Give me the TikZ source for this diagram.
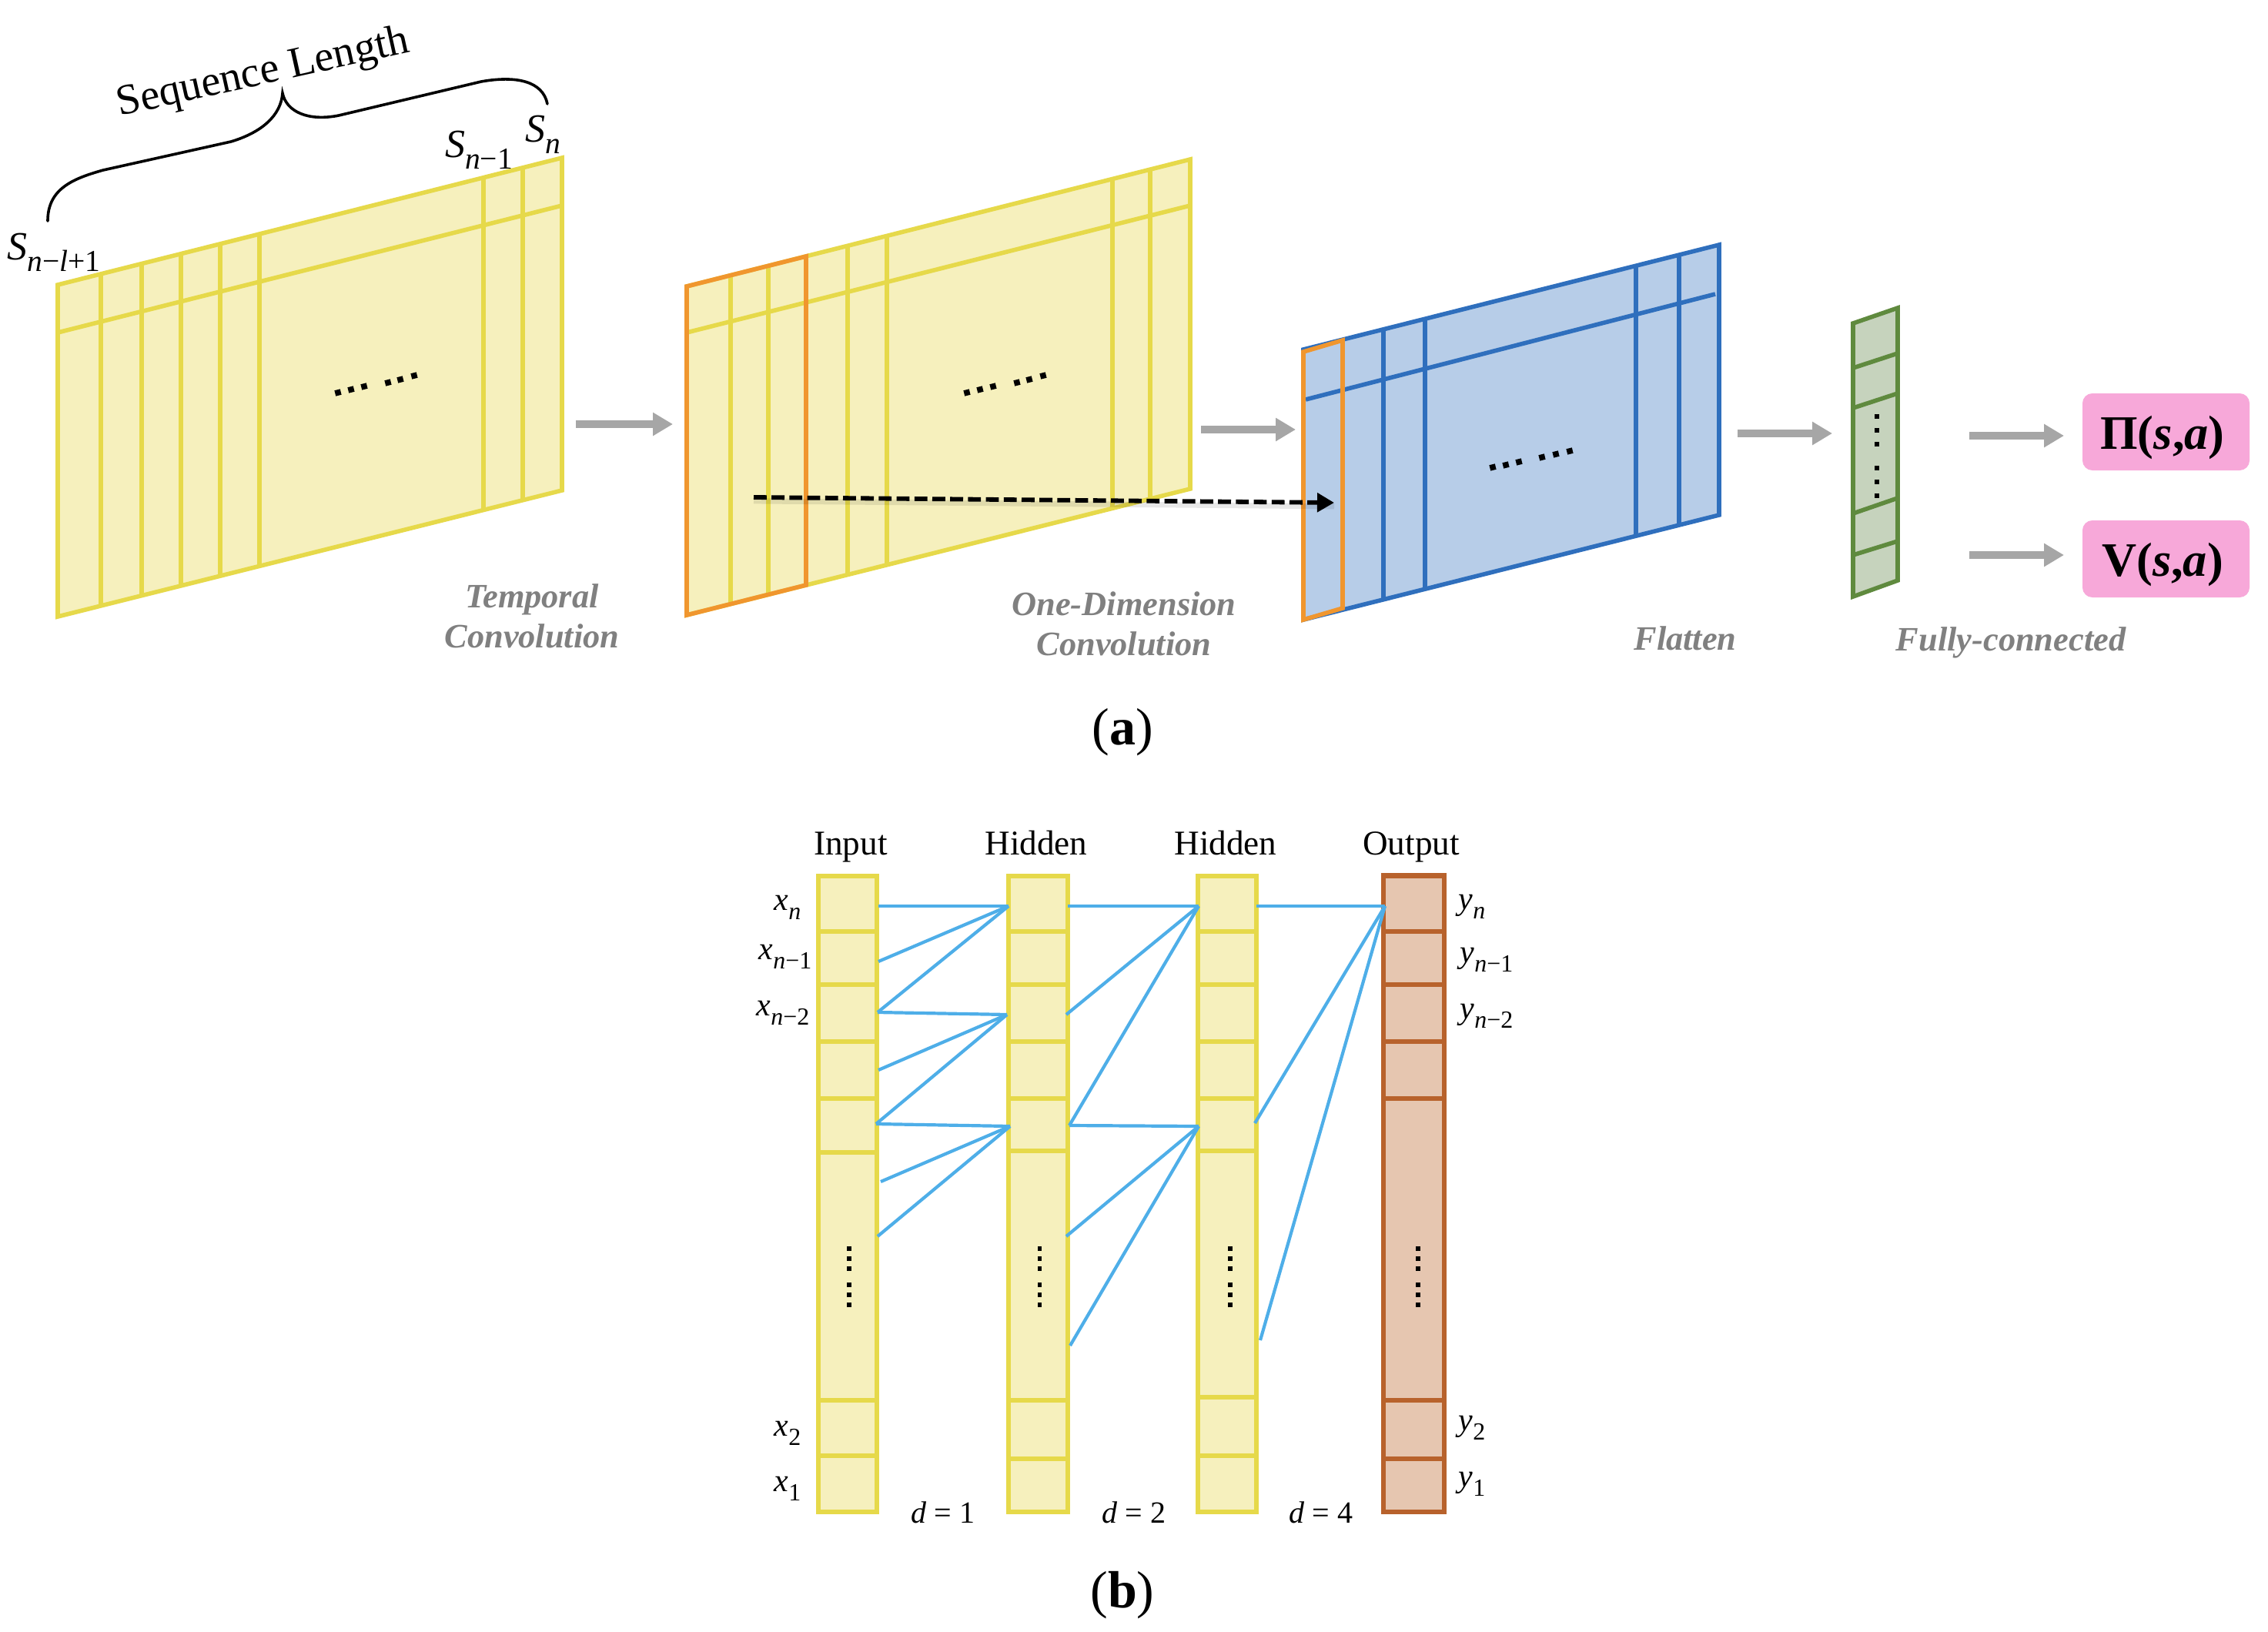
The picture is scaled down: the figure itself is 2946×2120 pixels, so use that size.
\documentclass[tikz,border=0pt]{standalone}
\usepackage{fontspec}
\usepackage{graphicx}
\setmainfont{Liberation Serif}
\usetikzlibrary{arrows.meta}
\definecolor{yl}{HTML}{E6D94A}
\definecolor{yf}{HTML}{F6F0BD}
\definecolor{org}{HTML}{F0962E}
\definecolor{bl}{HTML}{2F6FBD}
\definecolor{bf}{HTML}{B7CDE8}
\definecolor{gl}{HTML}{5F8A3E}
\definecolor{gf}{HTML}{C6D3BD}
\definecolor{ol}{HTML}{B8622C}
\definecolor{of}{HTML}{E6C6B0}
\definecolor{pk}{HTML}{F7A8D9}
\definecolor{sky}{HTML}{4EAEE8}
\definecolor{gry}{HTML}{A6A6A6}
\definecolor{lbl}{HTML}{808080}
\newcommand\msub[2]{\textit{#1}\raisebox{-0.28em}{\scalebox{.76}{#2}}}
\newcommand\mycol[5]{%
  \fill[#5] (#1,1137.5) rectangle (#2,1964);
  \foreach \y in {#3} \draw[#4] (#1,\y) -- (#2,\y);
  \draw[#4] (#1,1137.5) rectangle (#2,1964);}
\tikzset{
  yline/.style={draw=yl,line width=1.4pt},
  bline/.style={draw=bl,line width=1.4pt},
  gline/.style={draw=gl,line width=1.4pt},
  oline/.style={draw=org,line width=1.4pt,line join=miter},
  colY/.style={draw=yl,line width=1.5pt},
  colO/.style={draw=ol,line width=1.6pt},
  linkline/.style={draw=sky,line width=1.05pt},
  garrow/.style={draw=gry,line width=2.4pt,-{Triangle[length=6.5pt,width=7.2pt,fill=gry]}},
  caplab/.style={text=lbl,font=\fontsize{11.1}{13}\selectfont\bfseries\itshape,align=center,inner sep=0pt},
  headlab/.style={font=\fontsize{11.3}{13}\selectfont,inner sep=0pt,anchor=base},
  slab/.style={font=\fontsize{13}{15}\selectfont,inner sep=0pt},
  xlab/.style={font=\fontsize{10.5}{12}\selectfont,inner sep=0pt},
  dlab/.style={font=\fontsize{10}{12}\selectfont,inner sep=0pt},
  panebox/.style={fill=pk,rounded corners=3.2pt,minimum width=54.25pt,minimum height=25pt,inner sep=0pt},
  plab/.style={font=\fontsize{15.6}{18}\selectfont\bfseries,inner sep=0pt},
  sublab/.style={font=\fontsize{17}{20}\selectfont,inner sep=0pt},
  dotmark/.style={fill=black,minimum size=1.9pt,inner sep=0pt,outer sep=0pt,rotate=14},
  vdot/.style={fill=black,minimum size=1.5pt,inner sep=0pt,outer sep=0pt}
}
\begin{document}
\begin{tikzpicture}[x=.25pt,y=-.25pt]
\useasboundingbox (0,0) rectangle (2946,2120);

% --- panel (a): first sheet
\fill[yf] (75,370) -- (730,205) -- (730,637) -- (75,801) -- cycle;
\foreach \x in {131,184,235,286,337,628,679}
  \draw[yline] (\x,{370-(\x-75)*0.2519}) -- (\x,{801-(\x-75)*0.2504});
\draw[yline] (75,432) -- (730,267);
\draw[yline,line join=miter] (75,370) -- (730,205) -- (730,637) -- (75,801) -- cycle;

% --- second sheet
\fill[yf] (892,372) -- (1546,207) -- (1546,635) -- (892,799) -- cycle;
\foreach \x in {949,998,1101,1152,1445,1494}
  \draw[yline] (\x,{372-(\x-892)*0.2523}) -- (\x,{799-(\x-892)*0.2508});
\draw[yline] (892,432) -- (1546,267);
\draw[yline,line join=miter] (892,372) -- (1546,207) -- (1546,635) -- (892,799) -- cycle;
\draw[oline] (892,372) -- (1047,333) -- (1047,760) -- (892,799) -- cycle;

% --- third sheet
\fill[bf] (1693,454) -- (2233,318) -- (2233,669) -- (1693,805) -- cycle;
\foreach \x in {1797,1851,2125,2181}
  \draw[bline] (\x,{454-(\x-1693)*0.2519}) -- (\x,{805-(\x-1693)*0.2519});
\draw[bline] (1696,519) -- (2228,382);
\draw[bline,line join=miter] (1693,454) -- (2233,318) -- (2233,669) -- (1693,805) -- cycle;
\draw[oline] (1693,457) -- (1744,442) -- (1744,790) -- (1693,805) -- cycle;

% --- fully-connected strip
\fill[gf] (2407,420) -- (2465,400) -- (2465,754) -- (2407,775) -- cycle;
\draw[gline] (2407,478) -- (2465,459);
\draw[gline] (2407,530) -- (2465,511);
\draw[gline] (2407,667) -- (2465,647);
\draw[gline] (2407,721) -- (2465,703);
\draw[gline,line join=miter] (2407,420) -- (2465,400) -- (2465,754) -- (2407,775) -- cycle;

% --- dots on sheets
\foreach \n/\x/\y in {a/439/510,b/456/506,c/473/502,d/504/497,e/520/493,f/538/488,
                      g/1256/510,h/1273/506,i/1290/502,j/1321/497,k/1337/493,l/1355/488,
                      m/1939/607,o/1956/604,p/1973/600,q/2003/594,r/2021/590,s/2039/586}
  \node[dotmark] (dot\n) at (\x,\y) {};
\foreach \n/\y in {a/541,b/559,c/577,d/608,e/626,f/644}
  \node[vdot] (gdot\n) at (2438,\y) {};

% --- brace and captions
\draw[line width=.9pt,line cap=round] (62,287) .. controls (62,245) and (95,232) .. (134,221) -- (300,184)
  .. controls (340,172) and (365,150) .. (367,121) .. controls (372,145) and (400,158) .. (440,150)
  -- (625,106) .. controls (670,98) and (705,105) .. (711,135);
\node[inner sep=0pt,rotate=12.5,font=\fontsize{14}{16}\selectfont] (seq) at (342,96) {Sequence Length};
\node[slab] (s1) at (70,328) {\msub{S}{\textit{n}−\textit{l}+1}};
\node[slab] (s2) at (622,195) {\msub{S}{\textit{n}−1}};
\node[slab] (s3) at (705,175) {\msub{S}{\textit{n}}};
\node[caplab] (temporal) at (691,800) {Temporal\\Convolution};
\node[caplab] (onedim) at (1460,810) {One-Dimension\\Convolution};
\node[caplab] (flatten) at (2189,829) {Flatten};
\node[caplab] (fully) at (2612,835) {Fully-connected};

% --- output boxes
\node[panebox] (pi) at (2813.5,561) {};
\node[panebox] (v) at (2813.5,726) {};
\node[plab] (pitxt) at (2809,568) {Π(\textit{s},\textit{a})};
\node[plab] (vtxt) at (2809,733) {V(\textit{s},\textit{a})};

% --- grey arrows
\coordinate (a1s) at (748,551);  \coordinate (a1e) at (874,551);
\coordinate (a2s) at (1560,558); \coordinate (a2e) at (1683,558);
\coordinate (a3s) at (2257,563); \coordinate (a3e) at (2380,563);
\coordinate (a4s) at (2558,566); \coordinate (a4e) at (2681,566);
\coordinate (a5s) at (2558,721); \coordinate (a5e) at (2681,721);
\foreach \i in {1,...,5} \draw[garrow] (a\i s) -- (a\i e);

% --- dashed arrow
\coordinate (das) at (979,646); \coordinate (dae) at (1733,653);
\draw[draw=black,opacity=.09,line width=1.8pt] ([yshift=-1.2pt]das) -- ([yshift=-1.2pt]dae);
\draw[draw=black,line width=1.45pt,dash pattern=on 4.2pt off 1.6pt,-{Triangle[length=5.5pt,width=6pt]}] (das) -- (dae);

\node[sublab] (capa) at (1458,951) {(\textbf{a})};

% --- panel (b): columns
\mycol{1062.5}{1139}{1210,1279,1353,1427,1497,1819,1891}{colY}{yf}
\mycol{1310}{1387}{1210,1279,1353,1427,1495,1819,1895}{colY}{yf}
\mycol{1555.5}{1632}{1210,1279,1353,1427,1495,1815,1891}{colY}{yf}
\mycol{1797}{1876}{1210,1279,1353,1427,1819,1895}{colO}{of}

\foreach \c/\x in {a/1103,b/1350.5,c/1598,d/1842}
  \foreach \k/\y in {1/1622,2/1635,3/1648,4/1669,5/1682,6/1695}
    \node[vdot,minimum size=1.3pt] (col\c\k) at (\x,\y) {};

% --- hubs and sources of the links
\coordinate (ha) at (1310,1177);
\coordinate (hb) at (1308,1318);
\coordinate (hc) at (1312,1463);
\coordinate (hd) at (1557,1177);
\coordinate (he) at (1557,1463);
\coordinate (hf) at (1799,1177);
\foreach \n/\x/\y in {p1/1141/1177,p2/1141/1249,p3/1140/1315,p4/1141/1390,p5/1138/1460,p6/1144/1535,p7/1140/1606,
                      q1/1387/1177,q2/1385/1318,q3/1389/1462,q4/1385/1606,q5/1390/1748,
                      r1/1632/1177,r2/1630/1459,r3/1637/1741}
  \coordinate (\n) at (\x,\y);
\foreach \s/\t in {p1/ha,p2/ha,p3/ha,p3/hb,p4/hb,p5/hb,p5/hc,p6/hc,p7/hc,
                   q1/hd,q2/hd,q3/hd,q3/he,q4/he,q5/he,
                   r1/hf,r2/hf,r3/hf}
  \draw[linkline] (\s) -- (\t);

% --- labels of panel (b)
\node[headlab] (h1) at (1105,1110) {Input};
\node[headlab] (h2) at (1346,1110) {Hidden};
\node[headlab] (h3) at (1592,1110) {Hidden};
\node[headlab] (h4) at (1833,1110) {Output};
\node[xlab] (xn) at (1023,1179) {\msub{x}{\textit{n}}};
\node[xlab] (xn1) at (1020,1243) {\msub{x}{\textit{n}−1}};
\node[xlab] (xn2) at (1017,1316) {\msub{x}{\textit{n}−2}};
\node[xlab] (x2) at (1023,1862) {\msub{x}{2}};
\node[xlab] (x1) at (1023,1934) {\msub{x}{1}};
\node[xlab] (yn) at (1912,1178) {\msub{y}{\textit{n}}};
\node[xlab] (yn1) at (1931,1247) {\msub{y}{\textit{n}−1}};
\node[xlab] (yn2) at (1931,1320) {\msub{y}{\textit{n}−2}};
\node[xlab] (y2) at (1912,1855) {\msub{y}{2}};
\node[xlab] (y1) at (1912,1928) {\msub{y}{1}};
\node[dlab] (d1) at (1225,1965) {\textit{d} = 1};
\node[dlab] (d2) at (1473,1965) {\textit{d} = 2};
\node[dlab] (d4) at (1716,1965) {\textit{d} = 4};
\node[sublab] (capb) at (1458,2072) {(\textbf{b})};
\end{tikzpicture}
\end{document}
